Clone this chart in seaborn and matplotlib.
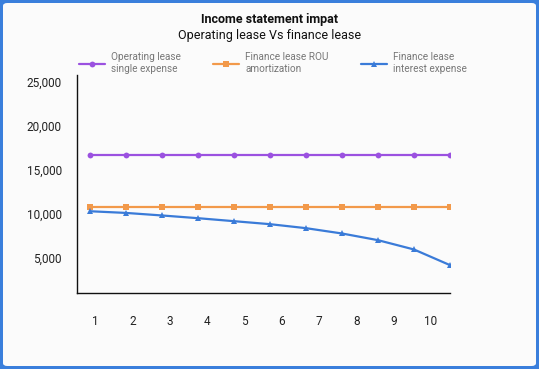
import numpy as np
import pandas as pd
import matplotlib
matplotlib.use("Agg")
import matplotlib.pyplot as plt
from matplotlib.patches import FancyBboxPatch
import seaborn as sns

# ---- data ----
periods = list(range(11))
operating_single = [16700] * 11
finance_rou = [10800] * 11
finance_interest = [10300, 10110, 9820, 9510, 9170, 8830, 8375, 7770, 7010, 5950, 4170]
tick_labels = ["1", "2", "3", "4", "5", "6", "7", "8", "9", "10"]
y_ticks = [5000, 10000, 15000, 20000, 25000]
series_names = ["Operating lease\nsingle expense",
                "Finance lease ROU\namortization",
                "Finance lease\ninterest expense"]

sns.set_theme(style="white")
plt.rcParams['font.family'] = ['Roboto', 'DejaVu Sans']

W, H = 539, 369
fig = plt.figure(figsize=(W / 100, H / 100), dpi=100)
fig.patch.set_facecolor("#3a7fdc")
bg = FancyBboxPatch((3 / W, 3 / H), (W - 6) / W, (H - 6) / H,
                    boxstyle="round,pad=0,rounding_size=0.008",
                    transform=fig.transFigure, facecolor="#fbfbfb",
                    edgecolor="none", zorder=-10)
fig.patches.append(bg)

ax_l, ax_r, ax_t, ax_b = 77, 450, 75, 293
ax = fig.add_axes([ax_l / W, 1 - ax_b / H, (ax_r - ax_l) / W, (ax_b - ax_t) / H])
ax.set_facecolor("none")
ax.set_zorder(5)

df = pd.DataFrame({
    "period": periods * 3,
    "value": operating_single + finance_rou + finance_interest,
    "series": [series_names[0]] * 11 + [series_names[1]] * 11 + [series_names[2]] * 11,
})
colors = ["#9b51e0", "#f2994a", "#3a7bd8"]
markers = ["o", "s", "^"]
msizes = [4.2, 4.2, 4.6]
for name, c, m, ms in zip(series_names, colors, markers, msizes):
    sub = df[df["series"] == name]
    sns.lineplot(data=sub, x="period", y="value", ax=ax, color=c, marker=m,
                 markersize=ms, markeredgewidth=0, linewidth=1.6, label=name,
                 legend=False)

px_per_unit = 36.0
x0_px = 90
ax.set_xlim((ax_l - x0_px) / px_per_unit, (ax_r - x0_px) / px_per_unit)
tick_px = np.linspace(95, 431, len(tick_labels))
ax.set_xticks((tick_px - x0_px) / px_per_unit)
ax.set_xticklabels(tick_labels)
ax.set_ylim(1000, 25800)
ax.set_yticks(y_ticks)
ax.set_yticklabels([f"{v:,}" for v in y_ticks])
ax.tick_params(axis="both", length=0, labelsize=8.5, labelcolor="#222222")
ax.tick_params(axis="y", pad=11)
ax.tick_params(axis="x", pad=16)
ax.set_xlabel("")
ax.set_ylabel("")
for s in ["top", "right"]:
    ax.spines[s].set_visible(False)
for s in ["left", "bottom"]:
    ax.spines[s].set_color("#111111")
    ax.spines[s].set_linewidth(1)

handles, labels = ax.get_legend_handles_labels()
fig.legend(handles, labels, loc="center", bbox_to_anchor=(273 / W, 1 - 63 / H),
           ncol=3, frameon=False, fontsize=7.2, labelcolor="#777777",
           handlelength=2.6, handletextpad=0.6, columnspacing=3.2)

fig.text(0.5, 1 - 20 / H, "Income statement impat", ha="center", va="center",
         fontsize=9, fontweight="bold", color="#111111")
fig.text(0.5, 1 - 35 / H, "Operating lease Vs finance lease", ha="center",
         va="center", fontsize=9, color="#111111")

fig.savefig("out.png", dpi=100, facecolor=fig.get_facecolor())
